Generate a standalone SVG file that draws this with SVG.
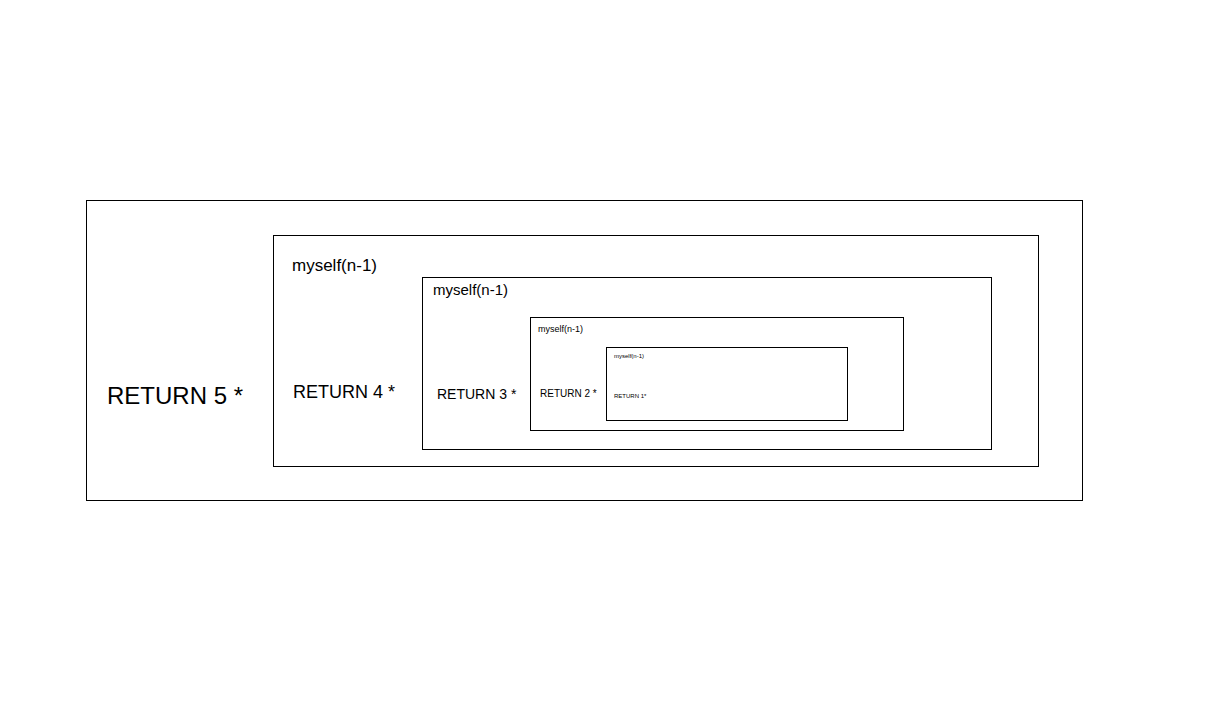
<svg xmlns="http://www.w3.org/2000/svg" width="1215" height="703" viewBox="0 0 1215 703">
<style>rect{fill:#fff;stroke:#000;stroke-width:1}text{font-family:"Liberation Sans",Arial,sans-serif;fill:#000}</style>
<rect x="0" y="0" width="1215" height="703" style="stroke:none"/>
<g id="n5"><rect x="86.5" y="200.5" width="996" height="300"/><text x="107" y="404" font-size="24">RETURN 5 *</text></g>
<g id="n4"><rect x="273.5" y="235.5" width="765" height="231"/><text x="292" y="271" font-size="17">myself(n-1)</text><text x="293" y="398" font-size="18">RETURN 4 *</text></g>
<g id="n3"><rect x="422.5" y="277.5" width="569" height="172"/><text x="433" y="295" font-size="15">myself(n-1)</text><text x="437" y="399" font-size="14">RETURN 3 *</text></g>
<g id="n2"><rect x="530.5" y="317.5" width="373" height="113"/><text x="538" y="332" font-size="9">myself(n-1)</text><text x="540" y="397" font-size="10">RETURN 2 *</text></g>
<g id="n1"><rect x="606.5" y="347.5" width="241" height="73"/><text x="614" y="358" font-size="6">myself(n-1)</text><text x="614" y="398" font-size="6">RETURN 1*</text></g>
<g id="connectors"/>
</svg>
